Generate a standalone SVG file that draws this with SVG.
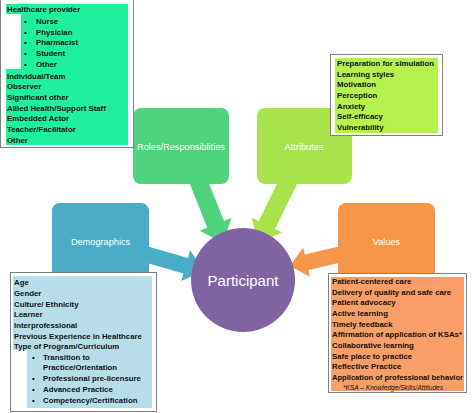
<svg xmlns="http://www.w3.org/2000/svg" width="474" height="413" viewBox="0 0 474 413">
<style>
.lbl{font-family:"Liberation Sans",Arial,sans-serif;font-size:9.2px;fill:#ffffff;text-anchor:middle}
.lst{font-family:"Liberation Sans",Arial,sans-serif;font-size:7.8px;font-weight:bold;fill:#111111}
.frame{fill:#ffffff;stroke:#7f7f7f;stroke-width:1}
</style>
<rect width="474" height="413" fill="#ffffff"/>
<g id="connectors">
<polygon fill="#4FD37C" points="189.6,183.3 207.3,227.7 199.8,230.7 223,243 231.4,218.1 224.0,221.1 206.4,176.7"/>
<polygon fill="#A8E34C" points="280.9,176.0 258.7,221.1 251.6,217.5 258,243 282.1,232.6 274.9,229.0 297.1,184.0"/>
<polygon fill="#4BACC6" points="142.8,261.7 183.5,273.4 181.3,281.1 204,271 190.2,250.3 187.9,258.0 147.2,246.3"/>
<polygon fill="#F79646" points="340.2,246.2 304.8,254.4 303.2,247.6 290,266 310.0,276.8 308.4,270.0 343.8,261.8"/>
</g>
<g id="participant">
<circle cx="243" cy="280" r="52" fill="#8064A2"/>
<text x="243" y="286" font-family="Liberation Sans, Arial, sans-serif" font-size="15" fill="#ffffff" text-anchor="middle">Participant</text>
</g>
<g id="roles">
<rect x="133" y="108" width="96" height="76" rx="8" fill="#4FD37C"/>
<text class="lbl" x="181" y="150">Roles/Responsiblities</text>
</g>
<g id="attributes">
<rect x="257" y="108" width="95" height="76" rx="8" fill="#A8E34C"/>
<text class="lbl" x="304" y="150">Attributes</text>
</g>
<g id="demographics">
<rect x="52" y="203" width="97" height="80" rx="8" fill="#4BACC6"/>
<text class="lbl" x="100.5" y="245">Demographics</text>
</g>
<g id="values">
<rect x="338" y="203" width="97" height="80" rx="8" fill="#F79646"/>
<text class="lbl" x="386.5" y="245">Values</text>
</g>
<g id="roles-list">
<rect class="frame" x="0.5" y="-2" width="133" height="149.5"/>
<rect x="6" y="4" width="122" height="141" fill="#1EF09C"/>
<rect x="6" y="14" width="15" height="55" fill="#ffffff"/>
<text class="lst" x="7" y="12">Healthcare provider</text>
<text class="lst" x="24" y="23.7">•</text><text class="lst" x="36" y="23.7">Nurse</text>
<text class="lst" x="24" y="34.5">•</text><text class="lst" x="36" y="34.5">Physician</text>
<text class="lst" x="24" y="45.3">•</text><text class="lst" x="36" y="45.3">Pharmacist</text>
<text class="lst" x="24" y="56">•</text><text class="lst" x="36" y="56">Student</text>
<text class="lst" x="24" y="67">•</text><text class="lst" x="36" y="67">Other</text>
<text class="lst" x="7" y="78.5">Individual/Team</text>
<text class="lst" x="7" y="89.3">Observer</text>
<text class="lst" x="7" y="100">Significant other</text>
<text class="lst" x="7" y="110.7">Allied Health/Support Staff</text>
<text class="lst" x="7" y="121.4">Embedded Actor</text>
<text class="lst" x="7" y="132.1">Teacher/Facilitator</text>
<text class="lst" x="7" y="142.8">Other</text>
</g>
<g id="attributes-list">
<rect class="frame" x="330.5" y="54.5" width="112" height="81"/>
<rect x="335" y="58" width="103" height="75" fill="#B5F24E"/>
<text class="lst" x="337" y="66">Preparation for simulation</text>
<text class="lst" x="337" y="76.7">Learning styles</text>
<text class="lst" x="337" y="87.4">Motivation</text>
<text class="lst" x="337" y="98">Perception</text>
<text class="lst" x="337" y="108.7">Anxiety</text>
<text class="lst" x="337" y="119.4">Self-efficacy</text>
<text class="lst" x="337" y="130">Vulnerability</text>
</g>
<g id="demographics-list">
<rect class="frame" x="10.5" y="272.5" width="146" height="139"/>
<rect x="13" y="276" width="139" height="132" fill="#B7DEE8"/>
<rect x="13" y="350" width="14" height="58" fill="#ffffff"/>
<text class="lst" x="14" y="285.1">Age</text>
<text class="lst" x="14" y="295.8">Gender</text>
<text class="lst" x="14" y="306.5">Culture/ Ethnicity</text>
<text class="lst" x="14" y="317.2">Learner</text>
<text class="lst" x="14" y="327.9">Interprofessional</text>
<text class="lst" x="14" y="338.6">Previous Experience in Healthcare</text>
<text class="lst" x="14" y="349.3">Type of Program/Curriculum</text>
<text class="lst" x="32" y="360">•</text><text class="lst" x="43" y="360">Transition to</text>
<text class="lst" x="43" y="370.4">Practice/Orientation</text>
<text class="lst" x="32" y="381.2">•</text><text class="lst" x="43" y="381.2">Professional pre-licensure</text>
<text class="lst" x="32" y="392.1">•</text><text class="lst" x="43" y="392.1">Advanced Practice</text>
<text class="lst" x="32" y="403.3">•</text><text class="lst" x="43" y="403.3">Competency/Certification</text>
</g>
<g id="values-list">
<rect class="frame" x="328.5" y="273.5" width="138" height="119"/>
<rect x="331" y="277" width="133" height="114" fill="#F99E66"/>
<text class="lst" x="332" y="283.8">Patient-centered care</text>
<text class="lst" x="332" y="294.5">Delivery of quality and safe care</text>
<text class="lst" x="332" y="305.2">Patient advocacy</text>
<text class="lst" x="332" y="315.9">Active learning</text>
<text class="lst" x="332" y="326.6">Timely feedback</text>
<text class="lst" x="332" y="337.3">Affirmation of application of KSAs*</text>
<text class="lst" x="332" y="348">Collaborative learning</text>
<text class="lst" x="332" y="358.7">Safe place to practice</text>
<text class="lst" x="332" y="369.4">Reflective Practice</text>
<text class="lst" x="332" y="380.1" textLength="131" lengthAdjust="spacingAndGlyphs">Application of professional behavior</text>
<text x="393" y="389.6" font-family="Liberation Sans, Arial, sans-serif" font-size="6.6" font-style="italic" fill="#111111" text-anchor="middle">*KSA – Knowledge/Skills/Attitudes</text>
</g>
</svg>
